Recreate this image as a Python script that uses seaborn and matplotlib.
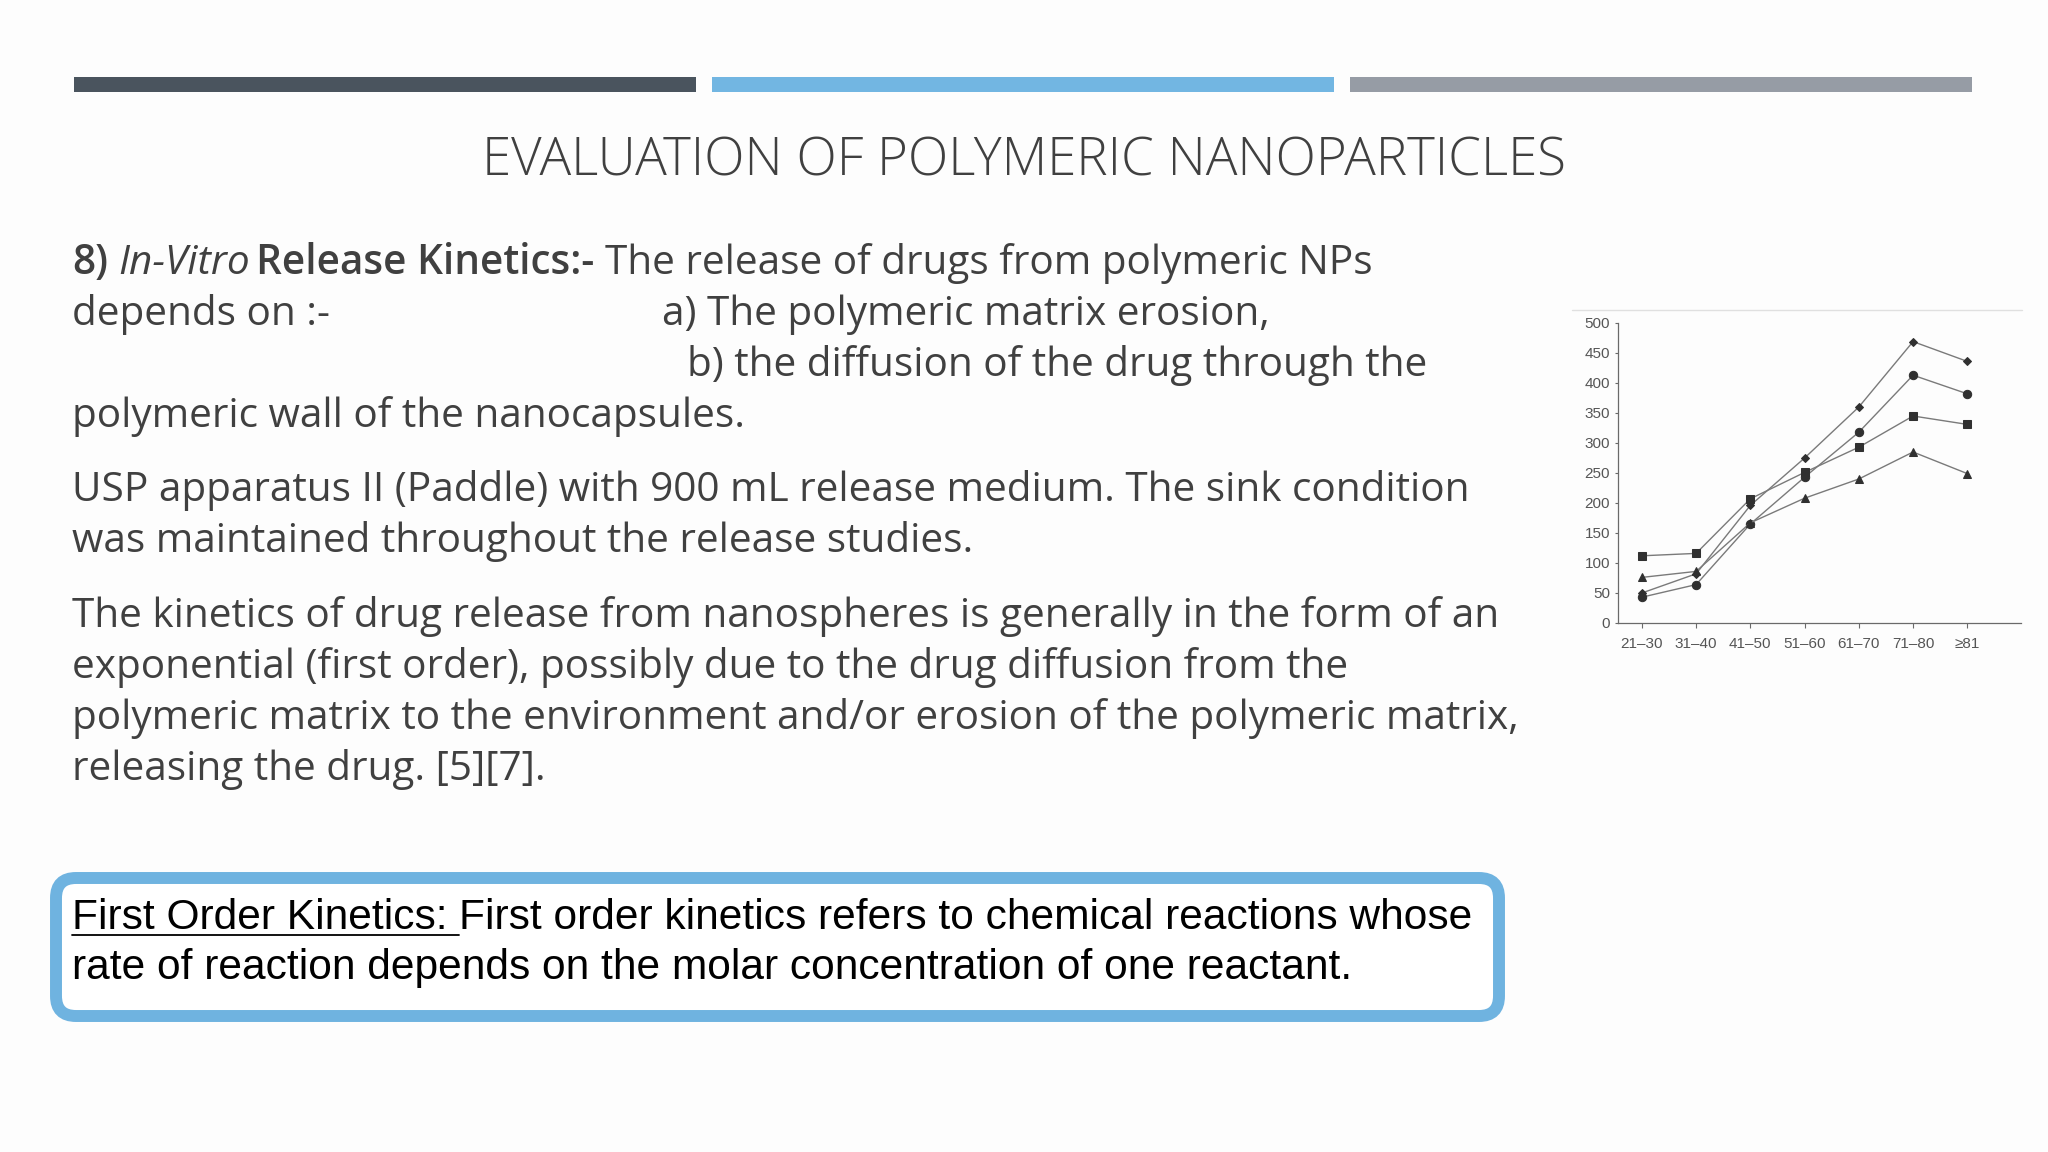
import matplotlib
matplotlib.use("Agg")
import matplotlib.pyplot as plt
import seaborn as sns
import pandas as pd
from matplotlib.patches import Rectangle, FancyBboxPatch
from matplotlib.lines import Line2D
from matplotlib.transforms import IdentityTransform

W, H = 2048, 1152

age_groups = ["21–30", "31–40", "41–50", "51–60", "61–70", "71–80", "≥81"]
diamond_vals = [50, 82, 196, 275, 360, 469, 436]
circle_vals = [43, 64, 165, 243, 318, 413, 382]
square_vals = [112, 116, 207, 251, 293, 345, 331]
triangle_vals = [76, 86, 167, 208, 240, 285, 249]
y_ticks = [0, 50, 100, 150, 200, 250, 300, 350, 400, 450, 500]

title = "EVALUATION OF POLYMERIC NANOPARTICLES"
body_lines = [
    "polymeric wall of the nanocapsules.",
    "USP apparatus II (Paddle) with 900 mL release medium. The sink condition",
    "was maintained throughout the release studies.",
    "The kinetics of drug release from nanospheres is generally in the form of an",
    "exponential (first order), possibly due to the drug diffusion from the",
    "polymeric matrix to the environment and/or erosion of the polymeric matrix,",
    "releasing the drug. [5][7].",
]
box_head = "First Order Kinetics:"
box_line1 = "First order kinetics refers to chemical reactions whose"
box_line2 = "rate of reaction depends on the molar concentration of one reactant."

sns.set_style("ticks")
plt.rcParams["font.family"] = ["Open Sans", "DejaVu Sans"]

TXT = "#404040"
BODY = 29.2
fig = plt.figure(figsize=(20.48, 11.52), dpi=100, facecolor="#fdfdfd")
renderer = fig.canvas.get_renderer()


def fx(x):
    return x / W


def fy(y):
    return 1 - y / H


def put(x, y, s, **kw):
    kw.setdefault("fontsize", BODY)
    kw.setdefault("color", TXT)
    kw.setdefault("va", "baseline")
    return fig.text(fx(x), fy(y), s, **kw)


def right_edge(t):
    return t.get_window_extent(renderer).x1


def space_w(**kw):
    a = put(-500, -500, "x x", **kw)
    b = put(-500, -500, "xx", **kw)
    w = a.get_window_extent(renderer).width - b.get_window_extent(renderer).width
    a.remove()
    b.remove()
    return w


# top colour bars
for x0, x1, c in [(74, 696, "#4a545e"), (712, 1334, "#72b6e2"), (1350, 1972, "#969ca5")]:
    fig.add_artist(Rectangle((fx(x0), fy(92)), (x1 - x0) / W, 15 / H,
                             transform=fig.transFigure, color=c, lw=0))

put(1024, 175, title, ha="center", fontsize=38, weight="light")

# first paragraph with mixed styles
sp = space_w()
x = 72
t = put(x, 274, "8)", weight="semibold")
x = right_edge(t) + sp
t = put(x, 274, "In-Vitro", style="italic")
x = right_edge(t) + sp * 0.6
t = put(x, 274, "Release Kinetics:-", weight="semibold")
x = right_edge(t) + sp
put(x, 274, "The release of drugs from polymeric NPs")
put(72, 325, "depends on :-")
put(662, 325, "a) The polymeric matrix erosion,")
put(687, 376, "b) the diffusion of the drug through the")

for s, y in zip(body_lines, [427, 501, 552, 627, 678, 729, 780]):
    put(72, y, s)

# definition box
fig.add_artist(FancyBboxPatch((56, H - 1016), 1443, 138,
                              boxstyle="round,pad=0,rounding_size=20",
                              transform=IdentityTransform(),
                              ec="#6fb3e0", fc="white", lw=8.6))
bx = dict(fontsize=30.6, color="black", family=["Liberation Sans", "DejaVu Sans"])
t = put(72, 929, box_head, **bx)
x1 = right_edge(t) + space_w(**bx)
fig.add_artist(Line2D([fx(72), fx(x1)], [fy(935)] * 2, color="black", lw=1.3))
put(x1, 929, box_line1, **bx)
put(72, 979, box_line2, **bx)

# small line chart
fig.add_artist(Line2D([fx(1572), fx(2022)], [fy(310)] * 2, color="#e0e0e0", lw=1))
ax = fig.add_axes([fx(1618), 529 / H, (2021 - 1618) / W, 300 / H])
ax.set_facecolor("none")

df = pd.DataFrame({
    "group": age_groups * 4,
    "value": diamond_vals + circle_vals + square_vals + triangle_vals,
    "series": ["D"] * 7 + ["o"] * 7 + ["s"] * 7 + ["^"] * 7,
})
sns.lineplot(data=df, x="group", y="value", style="series",
             markers={"D": "D", "o": "o", "s": "s", "^": "^"}, dashes=False,
             color="#7a7a7a", lw=1.0, markersize=5, markerfacecolor="#303030",
             markeredgecolor="#303030", legend=False, ax=ax)
sizes = {"D": 4.5, "o": 6, "s": 6, "^": 6}
for ln in ax.lines:
    m = ln.get_marker()
    if m in sizes:
        ln.set_markersize(sizes[m])

ax.set_xlim(-0.44, 6.99)
ax.set_ylim(0, 500)
ax.set_yticks(y_ticks)
ax.set_xlabel("")
ax.set_ylabel("")
sns.despine(ax=ax)
for sname in ["left", "bottom"]:
    ax.spines[sname].set_color("#6a6a6a")
    ax.spines[sname].set_linewidth(0.9)
ax.tick_params(axis="x", length=3.6, width=0.8, color="#6a6a6a", pad=6.5,
               labelsize=11, labelcolor="#555555")
ax.tick_params(axis="y", length=2.2, width=0.8, color="#6a6a6a", pad=3.6,
               labelsize=11, labelcolor="#555555")
for lab in ax.get_xticklabels() + ax.get_yticklabels():
    lab.set_family(["Liberation Sans", "DejaVu Sans"])

fig.savefig("out.png", dpi=100, facecolor=fig.get_facecolor())
